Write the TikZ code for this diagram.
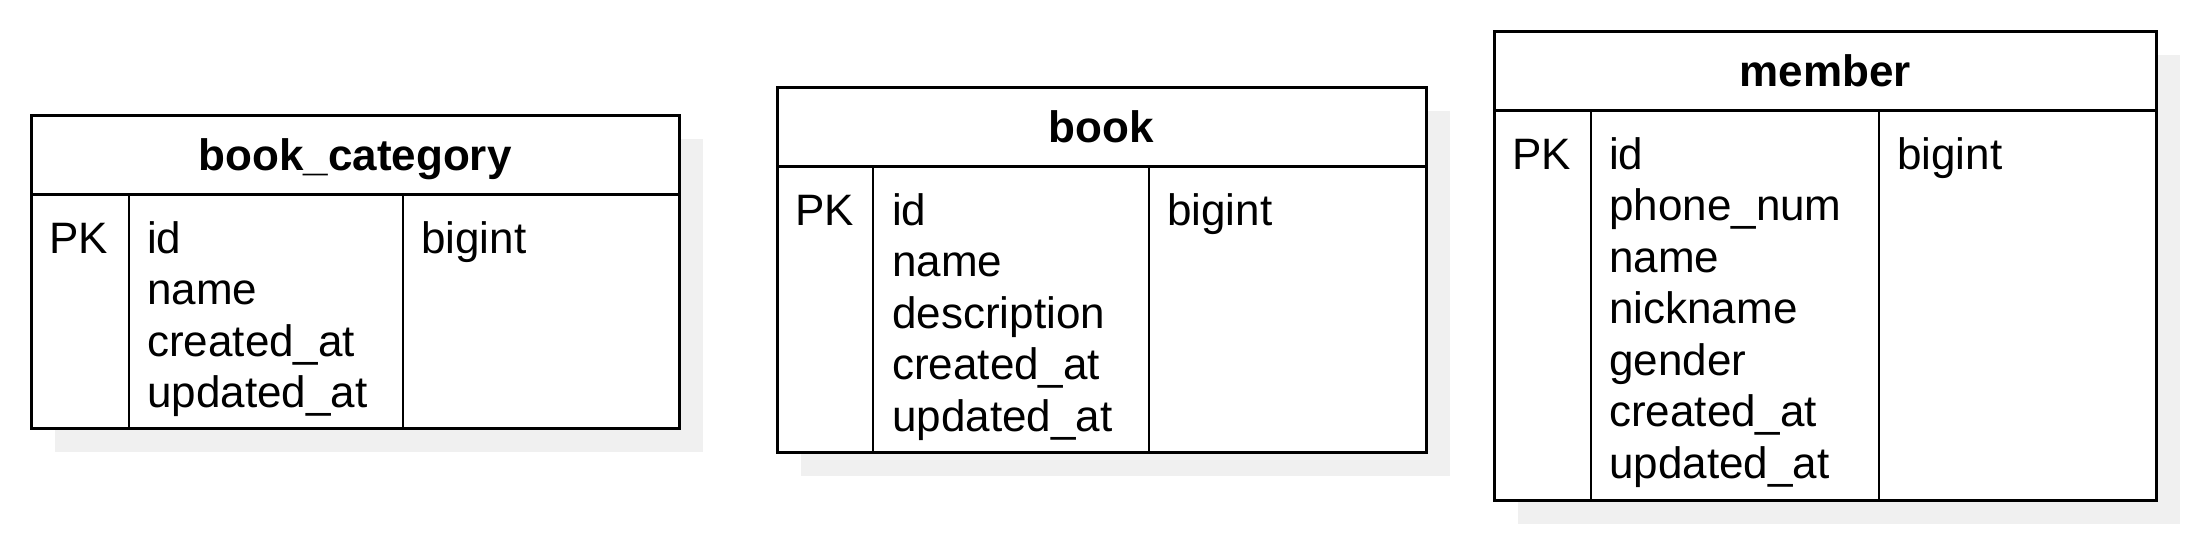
\documentclass[tikz,border=0pt]{standalone}
\usepackage{fontspec}
\setmainfont{Liberation Sans}
\definecolor{shadowgray}{HTML}{F0F0F0}
\tikzset{
  tbox/.style={draw=black,line width=3pt,fill=white},
  colline/.style={draw=black,line width=2pt},
  shadowbox/.style={fill=shadowgray,draw=none},
  fieldtxt/.style={anchor=base west,inner sep=0pt,font=\fontsize{44}{52}\selectfont},
  headtxt/.style={anchor=base,inner sep=0pt,font=\fontsize{44}{52}\selectfont\bfseries},
}
% #1 id, #2 x1, #3 x2, #4 top, #5 header bottom, #6 bottom, #7 d1, #8 d2, #9 title
\newcommand\ertable[9]{%
  \fill[shadowbox] (#2+24,#4+24) rectangle (#3+24,#6+24);
  \draw[tbox] (#2,#4) rectangle (#3,#6);
  \draw[tbox] (#2,#5) -- (#3,#5);
  \draw[colline] (#7,#5) -- (#7,#6);
  \draw[colline] (#8,#5) -- (#8,#6);
  \node[headtxt] (#1title) at ({(#2+#3)/2},{(#4+#5)/2+16}) {#9};
  \node[fieldtxt] (#1pk) at (#2+18,#5+59) {PK};
  \node[fieldtxt] (#1type) at (#8+18,#5+59) {bigint};
}
\newcommand\erfields[4]{% id, x, header bottom, list
  \foreach \t [count=\i from 0] in {#4}
    \node[fieldtxt] (#1f\i) at (#2,{#3+59+51.5*\i}) {\t};
}
\begin{document}
\begin{tikzpicture}[x=1pt,y=-1pt]
\useasboundingbox (0,0) rectangle (2194,538);
\ertable{a}{31}{679}{115}{194}{428}{129}{403}{book\_category}
\erfields{a}{147}{194}{id,name,created\_at,updated\_at}
\ertable{b}{777}{1426}{87}{166}{452}{873}{1149}{book}
\erfields{b}{892}{166}{id,name,description,created\_at,updated\_at}
\ertable{c}{1494}{2156}{31}{110}{500}{1591}{1879}{member}
\erfields{c}{1609}{110}{id,phone\_num,name,nickname,gender,created\_at,updated\_at}
\end{tikzpicture}
\end{document}
